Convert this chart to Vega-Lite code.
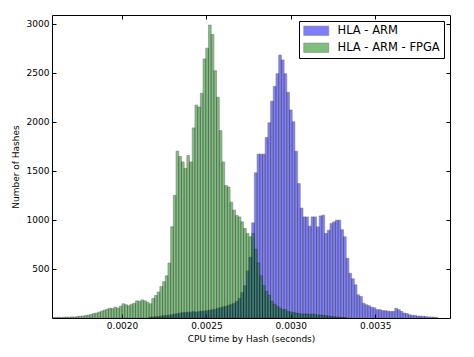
{
"$schema": "https://vega.github.io/schema/vega-lite/v6.json",
"width": 398, "height": 303,
"autosize": "none",
"padding": {"left": 52, "top": 15, "right": 24, "bottom": 39},
"background": "white",
"config": {
  "font": "DejaVu Sans",
  "view": {"stroke": "black", "strokeWidth": 1},
  "axis": {"grid": false, "domain": false, "tickColor": "black", "tickSize": -4, "labelPadding": 7, "labelFontSize": 9, "labelColor": "black", "titleFontSize": 9, "titleFontWeight": "normal", "titleColor": "black", "labelFont": "DejaVu Sans", "titleFont": "DejaVu Sans"}
},
"data": {"values": [
{"series":"HLA - ARM","start":0.00216,"end":0.002176,"count":10},
{"series":"HLA - ARM","start":0.002176,"end":0.002192,"count":10},
{"series":"HLA - ARM","start":0.002192,"end":0.002208,"count":15},
{"series":"HLA - ARM","start":0.002208,"end":0.002224,"count":15},
{"series":"HLA - ARM","start":0.002224,"end":0.00224,"count":20},
{"series":"HLA - ARM","start":0.00224,"end":0.002256,"count":25},
{"series":"HLA - ARM","start":0.002256,"end":0.002272,"count":25},
{"series":"HLA - ARM","start":0.002272,"end":0.002288,"count":30},
{"series":"HLA - ARM","start":0.002288,"end":0.002304,"count":35},
{"series":"HLA - ARM","start":0.002304,"end":0.00232,"count":40},
{"series":"HLA - ARM","start":0.00232,"end":0.002336,"count":45},
{"series":"HLA - ARM","start":0.002336,"end":0.002352,"count":50},
{"series":"HLA - ARM","start":0.002352,"end":0.002368,"count":55},
{"series":"HLA - ARM","start":0.002368,"end":0.002384,"count":55},
{"series":"HLA - ARM","start":0.002384,"end":0.0024,"count":60},
{"series":"HLA - ARM","start":0.0024,"end":0.002416,"count":60},
{"series":"HLA - ARM","start":0.002416,"end":0.002432,"count":65},
{"series":"HLA - ARM","start":0.002432,"end":0.002448,"count":60},
{"series":"HLA - ARM","start":0.002448,"end":0.002464,"count":65},
{"series":"HLA - ARM","start":0.002464,"end":0.00248,"count":70},
{"series":"HLA - ARM","start":0.00248,"end":0.002496,"count":70},
{"series":"HLA - ARM","start":0.002496,"end":0.002512,"count":75},
{"series":"HLA - ARM","start":0.002512,"end":0.002528,"count":80},
{"series":"HLA - ARM","start":0.002528,"end":0.002544,"count":85},
{"series":"HLA - ARM","start":0.002544,"end":0.00256,"count":90},
{"series":"HLA - ARM","start":0.00256,"end":0.002576,"count":100},
{"series":"HLA - ARM","start":0.002576,"end":0.002592,"count":105},
{"series":"HLA - ARM","start":0.002592,"end":0.002608,"count":115},
{"series":"HLA - ARM","start":0.002608,"end":0.002624,"count":120},
{"series":"HLA - ARM","start":0.002624,"end":0.00264,"count":130},
{"series":"HLA - ARM","start":0.00264,"end":0.002656,"count":140},
{"series":"HLA - ARM","start":0.002656,"end":0.002672,"count":150},
{"series":"HLA - ARM","start":0.002672,"end":0.002688,"count":170},
{"series":"HLA - ARM","start":0.002688,"end":0.002704,"count":200},
{"series":"HLA - ARM","start":0.002704,"end":0.00272,"count":260},
{"series":"HLA - ARM","start":0.00272,"end":0.002736,"count":330},
{"series":"HLA - ARM","start":0.002736,"end":0.002752,"count":480},
{"series":"HLA - ARM","start":0.002752,"end":0.002768,"count":620},
{"series":"HLA - ARM","start":0.002768,"end":0.002784,"count":970},
{"series":"HLA - ARM","start":0.002784,"end":0.0028,"count":1480},
{"series":"HLA - ARM","start":0.0028,"end":0.002816,"count":1670},
{"series":"HLA - ARM","start":0.002816,"end":0.002832,"count":1670},
{"series":"HLA - ARM","start":0.002832,"end":0.002848,"count":1670},
{"series":"HLA - ARM","start":0.002848,"end":0.002864,"count":1840},
{"series":"HLA - ARM","start":0.002864,"end":0.00288,"count":1990},
{"series":"HLA - ARM","start":0.00288,"end":0.002896,"count":2210},
{"series":"HLA - ARM","start":0.002896,"end":0.002912,"count":2360},
{"series":"HLA - ARM","start":0.002912,"end":0.002928,"count":2490},
{"series":"HLA - ARM","start":0.002928,"end":0.002944,"count":2680},
{"series":"HLA - ARM","start":0.002944,"end":0.00296,"count":2630},
{"series":"HLA - ARM","start":0.00296,"end":0.002976,"count":2490},
{"series":"HLA - ARM","start":0.002976,"end":0.002992,"count":2300},
{"series":"HLA - ARM","start":0.002992,"end":0.003008,"count":2120},
{"series":"HLA - ARM","start":0.003008,"end":0.003024,"count":2000},
{"series":"HLA - ARM","start":0.003024,"end":0.00304,"count":1700},
{"series":"HLA - ARM","start":0.00304,"end":0.003056,"count":1370},
{"series":"HLA - ARM","start":0.003056,"end":0.003072,"count":1120},
{"series":"HLA - ARM","start":0.003072,"end":0.003088,"count":1030},
{"series":"HLA - ARM","start":0.003088,"end":0.003104,"count":1030},
{"series":"HLA - ARM","start":0.003104,"end":0.00312,"count":936},
{"series":"HLA - ARM","start":0.00312,"end":0.003136,"count":1030},
{"series":"HLA - ARM","start":0.003136,"end":0.003152,"count":1030},
{"series":"HLA - ARM","start":0.003152,"end":0.003168,"count":929},
{"series":"HLA - ARM","start":0.003168,"end":0.003184,"count":1040},
{"series":"HLA - ARM","start":0.003184,"end":0.0032,"count":1048},
{"series":"HLA - ARM","start":0.0032,"end":0.003216,"count":862},
{"series":"HLA - ARM","start":0.003216,"end":0.003232,"count":895},
{"series":"HLA - ARM","start":0.003232,"end":0.003248,"count":963},
{"series":"HLA - ARM","start":0.003248,"end":0.003264,"count":980},
{"series":"HLA - ARM","start":0.003264,"end":0.00328,"count":997},
{"series":"HLA - ARM","start":0.00328,"end":0.003296,"count":997},
{"series":"HLA - ARM","start":0.003296,"end":0.003312,"count":900},
{"series":"HLA - ARM","start":0.003312,"end":0.003328,"count":828},
{"series":"HLA - ARM","start":0.003328,"end":0.003344,"count":608},
{"series":"HLA - ARM","start":0.003344,"end":0.00336,"count":456},
{"series":"HLA - ARM","start":0.00336,"end":0.003376,"count":400},
{"series":"HLA - ARM","start":0.003376,"end":0.003392,"count":338},
{"series":"HLA - ARM","start":0.003392,"end":0.003408,"count":236},
{"series":"HLA - ARM","start":0.003408,"end":0.003424,"count":219},
{"series":"HLA - ARM","start":0.003424,"end":0.00344,"count":150},
{"series":"HLA - ARM","start":0.00344,"end":0.003456,"count":135},
{"series":"HLA - ARM","start":0.003456,"end":0.003472,"count":125},
{"series":"HLA - ARM","start":0.003472,"end":0.003488,"count":110},
{"series":"HLA - ARM","start":0.003488,"end":0.003504,"count":104},
{"series":"HLA - ARM","start":0.003504,"end":0.00352,"count":85},
{"series":"HLA - ARM","start":0.00352,"end":0.003536,"count":85},
{"series":"HLA - ARM","start":0.003536,"end":0.003552,"count":75},
{"series":"HLA - ARM","start":0.003552,"end":0.003568,"count":75},
{"series":"HLA - ARM","start":0.003568,"end":0.003584,"count":70},
{"series":"HLA - ARM","start":0.003584,"end":0.0036,"count":67},
{"series":"HLA - ARM","start":0.0036,"end":0.003616,"count":67},
{"series":"HLA - ARM","start":0.003616,"end":0.003632,"count":100},
{"series":"HLA - ARM","start":0.003632,"end":0.003648,"count":85},
{"series":"HLA - ARM","start":0.003648,"end":0.003664,"count":67},
{"series":"HLA - ARM","start":0.003664,"end":0.00368,"count":50},
{"series":"HLA - ARM","start":0.00368,"end":0.003696,"count":45},
{"series":"HLA - ARM","start":0.003696,"end":0.003712,"count":33},
{"series":"HLA - ARM","start":0.003712,"end":0.003728,"count":28},
{"series":"HLA - ARM","start":0.003728,"end":0.003744,"count":26},
{"series":"HLA - ARM","start":0.003744,"end":0.00376,"count":20},
{"series":"HLA - ARM","start":0.00376,"end":0.003776,"count":20},
{"series":"HLA - ARM","start":0.003776,"end":0.003792,"count":18},
{"series":"HLA - ARM","start":0.003792,"end":0.003808,"count":15},
{"series":"HLA - ARM","start":0.003808,"end":0.003824,"count":10},
{"series":"HLA - ARM","start":0.003824,"end":0.00384,"count":10},
{"series":"HLA - ARM","start":0.00384,"end":0.003856,"count":8},
{"series":"HLA - ARM","start":0.003856,"end":0.003872,"count":5},
{"series":"HLA - ARM - FPGA","start":0.001584,"end":0.0016,"count":5},
{"series":"HLA - ARM - FPGA","start":0.0016,"end":0.001616,"count":5},
{"series":"HLA - ARM - FPGA","start":0.001616,"end":0.001632,"count":8},
{"series":"HLA - ARM - FPGA","start":0.001632,"end":0.001648,"count":5},
{"series":"HLA - ARM - FPGA","start":0.001648,"end":0.001664,"count":8},
{"series":"HLA - ARM - FPGA","start":0.001664,"end":0.00168,"count":10},
{"series":"HLA - ARM - FPGA","start":0.00168,"end":0.001696,"count":8},
{"series":"HLA - ARM - FPGA","start":0.001696,"end":0.001712,"count":12},
{"series":"HLA - ARM - FPGA","start":0.001712,"end":0.001728,"count":10},
{"series":"HLA - ARM - FPGA","start":0.001728,"end":0.001744,"count":15},
{"series":"HLA - ARM - FPGA","start":0.001744,"end":0.00176,"count":18},
{"series":"HLA - ARM - FPGA","start":0.00176,"end":0.001776,"count":20},
{"series":"HLA - ARM - FPGA","start":0.001776,"end":0.001792,"count":25},
{"series":"HLA - ARM - FPGA","start":0.001792,"end":0.001808,"count":30},
{"series":"HLA - ARM - FPGA","start":0.001808,"end":0.001824,"count":35},
{"series":"HLA - ARM - FPGA","start":0.001824,"end":0.00184,"count":45},
{"series":"HLA - ARM - FPGA","start":0.00184,"end":0.001856,"count":50},
{"series":"HLA - ARM - FPGA","start":0.001856,"end":0.001872,"count":60},
{"series":"HLA - ARM - FPGA","start":0.001872,"end":0.001888,"count":70},
{"series":"HLA - ARM - FPGA","start":0.001888,"end":0.001904,"count":80},
{"series":"HLA - ARM - FPGA","start":0.001904,"end":0.00192,"count":90},
{"series":"HLA - ARM - FPGA","start":0.00192,"end":0.001936,"count":100},
{"series":"HLA - ARM - FPGA","start":0.001936,"end":0.001952,"count":95},
{"series":"HLA - ARM - FPGA","start":0.001952,"end":0.001968,"count":110},
{"series":"HLA - ARM - FPGA","start":0.001968,"end":0.001984,"count":100},
{"series":"HLA - ARM - FPGA","start":0.001984,"end":0.002,"count":120},
{"series":"HLA - ARM - FPGA","start":0.002,"end":0.002016,"count":145},
{"series":"HLA - ARM - FPGA","start":0.002016,"end":0.002032,"count":135},
{"series":"HLA - ARM - FPGA","start":0.002032,"end":0.002048,"count":125},
{"series":"HLA - ARM - FPGA","start":0.002048,"end":0.002064,"count":140},
{"series":"HLA - ARM - FPGA","start":0.002064,"end":0.00208,"count":150},
{"series":"HLA - ARM - FPGA","start":0.00208,"end":0.002096,"count":175},
{"series":"HLA - ARM - FPGA","start":0.002096,"end":0.002112,"count":170},
{"series":"HLA - ARM - FPGA","start":0.002112,"end":0.002128,"count":185},
{"series":"HLA - ARM - FPGA","start":0.002128,"end":0.002144,"count":175},
{"series":"HLA - ARM - FPGA","start":0.002144,"end":0.00216,"count":160},
{"series":"HLA - ARM - FPGA","start":0.00216,"end":0.002176,"count":145},
{"series":"HLA - ARM - FPGA","start":0.002176,"end":0.002192,"count":200},
{"series":"HLA - ARM - FPGA","start":0.002192,"end":0.002208,"count":230},
{"series":"HLA - ARM - FPGA","start":0.002208,"end":0.002224,"count":265},
{"series":"HLA - ARM - FPGA","start":0.002224,"end":0.00224,"count":320},
{"series":"HLA - ARM - FPGA","start":0.00224,"end":0.002256,"count":370},
{"series":"HLA - ARM - FPGA","start":0.002256,"end":0.002272,"count":430},
{"series":"HLA - ARM - FPGA","start":0.002272,"end":0.002288,"count":560},
{"series":"HLA - ARM - FPGA","start":0.002288,"end":0.002304,"count":930},
{"series":"HLA - ARM - FPGA","start":0.002304,"end":0.00232,"count":1250},
{"series":"HLA - ARM - FPGA","start":0.00232,"end":0.002336,"count":1700},
{"series":"HLA - ARM - FPGA","start":0.002336,"end":0.002352,"count":1646},
{"series":"HLA - ARM - FPGA","start":0.002352,"end":0.002368,"count":1590},
{"series":"HLA - ARM - FPGA","start":0.002368,"end":0.002384,"count":1525},
{"series":"HLA - ARM - FPGA","start":0.002384,"end":0.0024,"count":1656},
{"series":"HLA - ARM - FPGA","start":0.0024,"end":0.002416,"count":1590},
{"series":"HLA - ARM - FPGA","start":0.002416,"end":0.002432,"count":1937},
{"series":"HLA - ARM - FPGA","start":0.002432,"end":0.002448,"count":2170},
{"series":"HLA - ARM - FPGA","start":0.002448,"end":0.002464,"count":2150},
{"series":"HLA - ARM - FPGA","start":0.002464,"end":0.00248,"count":2290},
{"series":"HLA - ARM - FPGA","start":0.00248,"end":0.002496,"count":2640},
{"series":"HLA - ARM - FPGA","start":0.002496,"end":0.002512,"count":2750},
{"series":"HLA - ARM - FPGA","start":0.002512,"end":0.002528,"count":2985},
{"series":"HLA - ARM - FPGA","start":0.002528,"end":0.002544,"count":2890},
{"series":"HLA - ARM - FPGA","start":0.002544,"end":0.00256,"count":2520},
{"series":"HLA - ARM - FPGA","start":0.00256,"end":0.002576,"count":2250},
{"series":"HLA - ARM - FPGA","start":0.002576,"end":0.002592,"count":1910},
{"series":"HLA - ARM - FPGA","start":0.002592,"end":0.002608,"count":1590},
{"series":"HLA - ARM - FPGA","start":0.002608,"end":0.002624,"count":1350},
{"series":"HLA - ARM - FPGA","start":0.002624,"end":0.00264,"count":1335},
{"series":"HLA - ARM - FPGA","start":0.00264,"end":0.002656,"count":1180},
{"series":"HLA - ARM - FPGA","start":0.002656,"end":0.002672,"count":1100},
{"series":"HLA - ARM - FPGA","start":0.002672,"end":0.002688,"count":1045},
{"series":"HLA - ARM - FPGA","start":0.002688,"end":0.002704,"count":1030},
{"series":"HLA - ARM - FPGA","start":0.002704,"end":0.00272,"count":980},
{"series":"HLA - ARM - FPGA","start":0.00272,"end":0.002736,"count":913},
{"series":"HLA - ARM - FPGA","start":0.002736,"end":0.002752,"count":862},
{"series":"HLA - ARM - FPGA","start":0.002752,"end":0.002768,"count":828},
{"series":"HLA - ARM - FPGA","start":0.002768,"end":0.002784,"count":860},
{"series":"HLA - ARM - FPGA","start":0.002784,"end":0.0028,"count":700},
{"series":"HLA - ARM - FPGA","start":0.0028,"end":0.002816,"count":560},
{"series":"HLA - ARM - FPGA","start":0.002816,"end":0.002832,"count":430},
{"series":"HLA - ARM - FPGA","start":0.002832,"end":0.002848,"count":330},
{"series":"HLA - ARM - FPGA","start":0.002848,"end":0.002864,"count":270},
{"series":"HLA - ARM - FPGA","start":0.002864,"end":0.00288,"count":230},
{"series":"HLA - ARM - FPGA","start":0.00288,"end":0.002896,"count":170},
{"series":"HLA - ARM - FPGA","start":0.002896,"end":0.002912,"count":140},
{"series":"HLA - ARM - FPGA","start":0.002912,"end":0.002928,"count":120},
{"series":"HLA - ARM - FPGA","start":0.002928,"end":0.002944,"count":100},
{"series":"HLA - ARM - FPGA","start":0.002944,"end":0.00296,"count":85},
{"series":"HLA - ARM - FPGA","start":0.00296,"end":0.002976,"count":85},
{"series":"HLA - ARM - FPGA","start":0.002976,"end":0.002992,"count":65},
{"series":"HLA - ARM - FPGA","start":0.002992,"end":0.003008,"count":60},
{"series":"HLA - ARM - FPGA","start":0.003008,"end":0.003024,"count":55},
{"series":"HLA - ARM - FPGA","start":0.003024,"end":0.00304,"count":50},
{"series":"HLA - ARM - FPGA","start":0.00304,"end":0.003056,"count":45},
{"series":"HLA - ARM - FPGA","start":0.003056,"end":0.003072,"count":40},
{"series":"HLA - ARM - FPGA","start":0.003072,"end":0.003088,"count":40},
{"series":"HLA - ARM - FPGA","start":0.003088,"end":0.003104,"count":40},
{"series":"HLA - ARM - FPGA","start":0.003104,"end":0.00312,"count":35},
{"series":"HLA - ARM - FPGA","start":0.00312,"end":0.003136,"count":40},
{"series":"HLA - ARM - FPGA","start":0.003136,"end":0.003152,"count":35},
{"series":"HLA - ARM - FPGA","start":0.003152,"end":0.003168,"count":30},
{"series":"HLA - ARM - FPGA","start":0.003168,"end":0.003184,"count":30},
{"series":"HLA - ARM - FPGA","start":0.003184,"end":0.0032,"count":25},
{"series":"HLA - ARM - FPGA","start":0.0032,"end":0.003216,"count":25},
{"series":"HLA - ARM - FPGA","start":0.003216,"end":0.003232,"count":20},
{"series":"HLA - ARM - FPGA","start":0.003232,"end":0.003248,"count":15},
{"series":"HLA - ARM - FPGA","start":0.003248,"end":0.003264,"count":12},
{"series":"HLA - ARM - FPGA","start":0.003264,"end":0.00328,"count":10},
{"series":"HLA - ARM - FPGA","start":0.00328,"end":0.003296,"count":8},
{"series":"HLA - ARM - FPGA","start":0.003296,"end":0.003312,"count":5},
{"series":"HLA - ARM - FPGA","start":0.003312,"end":0.003328,"count":5}
]},
"layer": [
  {
    "mark": {"type": "bar", "opacity": 0.5, "stroke": "black", "strokeWidth": 0.6, "clip": true},
    "encoding": {
      "x": {"field": "start", "type": "quantitative", "scale": {"domain": [0.001585, 0.003943], "zero": false, "nice": false},
            "axis": {"values": [0.002, 0.0025, 0.003, 0.0035], "format": ".4f", "title": "CPU time by Hash (seconds)", "titlePadding": 4}},
      "x2": {"field": "end"},
      "y": {"field": "count", "type": "quantitative", "stack": null, "scale": {"domain": [0, 3088], "nice": false, "zero": true},
            "axis": {"values": [500, 1000, 1500, 2000, 2500, 3000], "format": "d", "title": "Number of Hashes", "titlePadding": 6}},
      "y2": {"datum": 0},
      "color": {"field": "series", "type": "nominal",
                "scale": {"domain": ["HLA - ARM", "HLA - ARM - FPGA"], "range": ["#0000ff", "#008000"]},
                "legend": {"title": null, "orient": "top-right", "offset": 6, "strokeColor": "black", "fillColor": "white", "padding": 4,
                           "symbolType": "M-2.5,-0.93H2.5V0.93H-2.5Z", "symbolSize": 100, "symbolOffset": 7.5, "symbolOpacity": 0.5, "symbolStrokeColor": "black", "symbolStrokeWidth": 0.6,
                           "labelFontSize": 11.5, "labelColor": "black", "labelFont": "DejaVu Sans", "labelOffset": 15.5, "rowPadding": 4}}
    }
  },
  {
    "mark": {"type": "bar", "opacity": 0},
    "encoding": {
      "x": {"field": "start", "type": "quantitative", "axis": {"orient": "top", "values": [0.002, 0.0025, 0.003, 0.0035], "labels": false, "title": null}},
      "x2": {"field": "end"},
      "y": {"field": "count", "type": "quantitative", "stack": null, "axis": {"orient": "right", "values": [500, 1000, 1500, 2000, 2500, 3000], "labels": false, "title": null}},
      "y2": {"datum": 0}
    }
  }
],
"resolve": {"axis": {"x": "independent", "y": "independent"}}
}
